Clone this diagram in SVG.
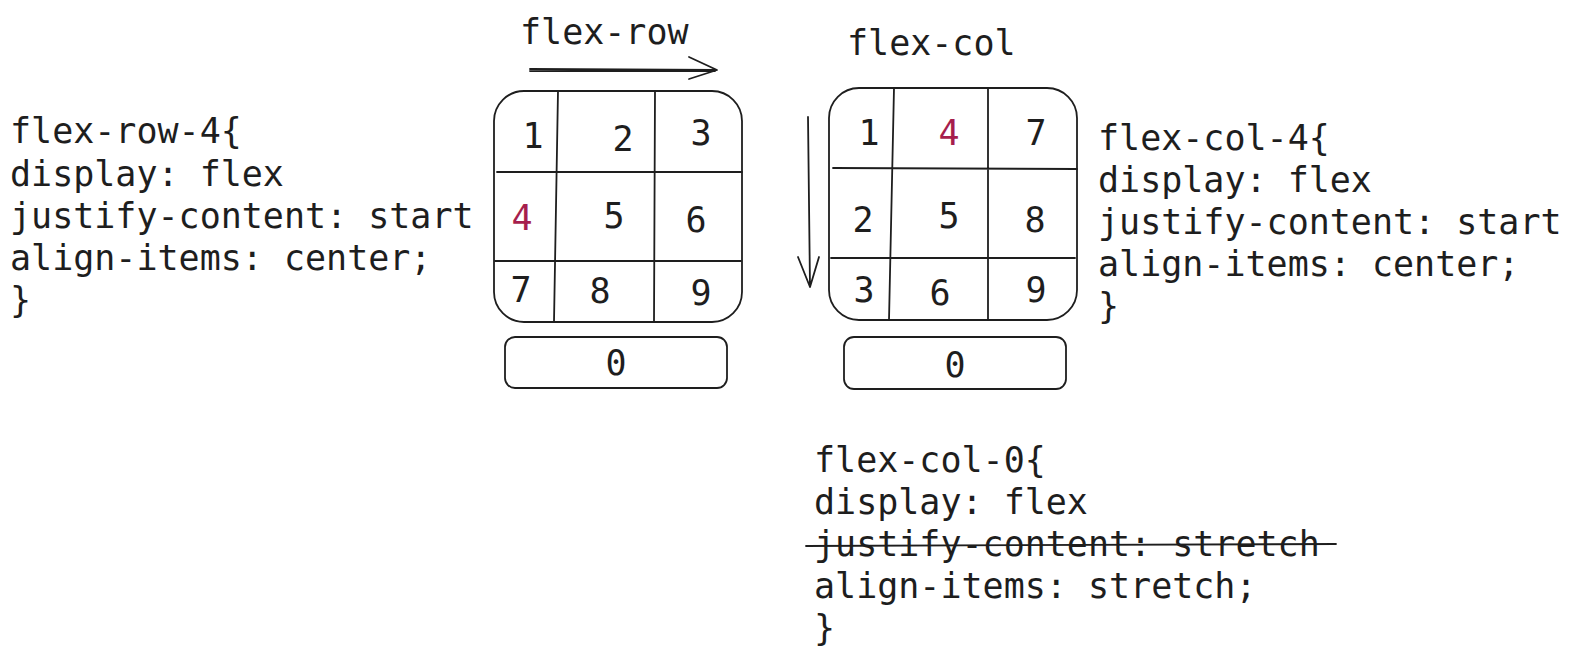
<svg xmlns="http://www.w3.org/2000/svg" width="1577" height="663" viewBox="0 0 1577 663">
<style>
text{font-family:"DejaVu Sans Mono","Liberation Mono",monospace;font-size:35px;fill:#1e1e1e}
.n{text-anchor:middle}
.r{fill:#a61e4d}
.s{fill:none;stroke:#1e1e1e;stroke-width:1.8;stroke-linecap:round;stroke-linejoin:round}
</style>
<rect width="1577" height="663" fill="#ffffff"/>
<g id="code-row">
<text x="10" y="143">flex-row-4{</text>
<text x="10" y="186">display: flex</text>
<text x="10" y="228">justify-content: start</text>
<text x="10" y="270">align-items: center;</text>
<text x="10" y="312">}</text>
</g>
<g id="code-col">
<text x="1098" y="150">flex-col-4{</text>
<text x="1098" y="192">display: flex</text>
<text x="1098" y="234">justify-content: start</text>
<text x="1098" y="276">align-items: center;</text>
<text x="1098" y="318">}</text>
</g>
<g id="code-col0">
<text x="814" y="472">flex-col-0{</text>
<text x="814" y="514">display: flex</text>
<text x="814" y="556">justify-content: stretch</text>
<text x="814" y="598">align-items: stretch;</text>
<text x="814" y="640">}</text>
<path class="s" d="M806 546 L1336 544"/>
</g>
<g id="label-row"><text x="520" y="44">flex-row</text></g>
<g id="label-col"><text x="847" y="55">flex-col</text></g>
<g id="grid-row">
<rect class="s" x="494" y="91" width="248" height="231" rx="30"/>
<path class="s" d="M558 91 L554 322 M655 91 L654 322 M497 172 L742 172 M495 261 L741 261"/>
<text class="n" x="533" y="148">1</text>
<text class="n" x="623" y="151">2</text>
<text class="n" x="701" y="145">3</text>
<text class="n r" x="522" y="230">4</text>
<text class="n" x="614" y="228">5</text>
<text class="n" x="696" y="232">6</text>
<text class="n" x="521" y="302">7</text>
<text class="n" x="600" y="303">8</text>
<text class="n" x="701" y="305">9</text>
</g>
<g id="zero-row">
<rect class="s" x="505" y="337" width="222" height="51" rx="10"/>
<text class="n" x="616" y="375">0</text>
</g>
<g id="grid-col">
<rect class="s" x="829" y="88" width="248" height="232" rx="30"/>
<path class="s" d="M894 88 L889 320 M988 88 L988 320 M833 168 L1077 169 M831 258 L1075 258"/>
<text class="n" x="869" y="145">1</text>
<text class="n r" x="949" y="145">4</text>
<text class="n" x="1036" y="145">7</text>
<text class="n" x="863" y="232">2</text>
<text class="n" x="949" y="228">5</text>
<text class="n" x="1035" y="232">8</text>
<text class="n" x="864" y="302">3</text>
<text class="n" x="940" y="305">6</text>
<text class="n" x="1036" y="302">9</text>
</g>
<g id="zero-col">
<rect class="s" x="844" y="337" width="222" height="52" rx="10"/>
<text class="n" x="955" y="377">0</text>
</g>
<g id="connectors">
<path class="s" d="M530 69 L716 70 M530 71 L715 71 M689 57 L717 70 L689 79"/>
<path class="s" d="M808 117 L810 287 M798 257 L810 287 L819 257"/>
</g>
</svg>
